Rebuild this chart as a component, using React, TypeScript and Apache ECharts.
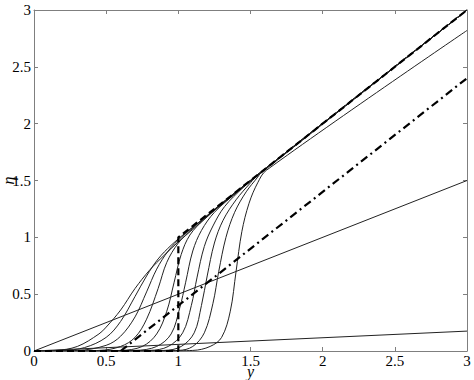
import React, { useEffect, useRef } from "react";
import * as echarts from "echarts";

const xTicks = [0, 0.5, 1, 1.5, 2, 2.5, 3];
const yTicks = [0, 0.5, 1, 1.5, 2, 2.5, 3];

const curve1 = [[0, 0], [0.15, 0.005], [0.3, 0.04], [0.45, 0.15], [0.5, 0.21], [0.6, 0.36], [0.7, 0.55], [0.8, 0.71], [0.9, 0.84], [1.0, 0.96], [1.1, 1.07], [1.2, 1.18], [1.3, 1.29], [3, 3]];
const curve2 = [[0, 0], [0.2, 0.005], [0.35, 0.03], [0.5, 0.12], [0.6, 0.26], [0.7, 0.48], [0.78, 0.66], [0.86, 0.81], [0.95, 0.93], [1.05, 1.04], [1.2, 1.19], [1.35, 1.35], [3, 3]];
const curve3 = [[0, 0], [0.3, 0.005], [0.5, 0.05], [0.6, 0.13], [0.7, 0.3], [0.78, 0.52], [0.85, 0.72], [0.93, 0.88], [1.02, 1.0], [1.15, 1.14], [1.35, 1.35], [3, 3]];
const curve4 = [[0.2, 0], [0.45, 0.005], [0.6, 0.04], [0.7, 0.12], [0.78, 0.28], [0.86, 0.55], [0.92, 0.78], [1.0, 0.95], [1.1, 1.08], [1.25, 1.24], [1.4, 1.4], [3, 3]];
const curve5 = [[0.3, 0], [0.6, 0.005], [0.75, 0.04], [0.85, 0.15], [0.92, 0.35], [0.97, 0.6], [1.02, 0.85], [1.08, 1.02], [1.18, 1.16], [1.3, 1.29], [1.45, 1.45], [3, 3]];
const curve6 = [[0.4, 0], [0.7, 0.005], [0.85, 0.04], [0.95, 0.15], [1.01, 0.38], [1.05, 0.6], [1.1, 0.88], [1.16, 1.06], [1.25, 1.22], [1.4, 1.39], [1.5, 1.5], [3, 3]];
const curve7 = [[0.5, 0], [0.8, 0.005], [0.93, 0.04], [1.03, 0.16], [1.09, 0.4], [1.13, 0.65], [1.18, 0.92], [1.24, 1.1], [1.32, 1.27], [1.45, 1.44], [1.52, 1.52], [3, 3]];
const curve8 = [[0.6, 0], [0.9, 0.005], [1.02, 0.04], [1.11, 0.16], [1.16, 0.4], [1.2, 0.66], [1.25, 0.95], [1.31, 1.15], [1.4, 1.33], [1.5, 1.48], [1.55, 1.55], [3, 3]];
const curve9 = [[0.7, 0], [1.0, 0.005], [1.1, 0.04], [1.18, 0.16], [1.24, 0.42], [1.28, 0.7], [1.33, 1.0], [1.39, 1.22], [1.47, 1.4], [1.55, 1.53], [1.58, 1.58], [3, 3]];
const curve10 = [[0.8, 0], [1.1, 0.005], [1.22, 0.04], [1.3, 0.12], [1.36, 0.35], [1.4, 0.7], [1.44, 1.05], [1.49, 1.3], [1.55, 1.48], [1.61, 1.59], [3, 2.82]];

const halfLine = [[0, 0], [3, 1.5]];
const lowLine = [[0, 0], [3, 0.175]];
const dashDotLine = [[0.6, 0], [3, 2.4]];
const dashedStep = [[0, 0], [1, 0], [1, 1], [3, 3]];

const curves = [curve1, curve2, curve3, curve4, curve5, curve6, curve7, curve8, curve9, curve10];

export default function App() {
  const ref = useRef<HTMLDivElement>(null);
  useEffect(() => {
    if (!ref.current) return;
    const chart = echarts.init(ref.current, null, { renderer: "svg" });
    const font = "Liberation Serif";
    const axisCommon = {
      type: "value" as const,
      min: 0,
      max: 3,
      interval: 0.5,
      splitLine: { show: false },
      axisLine: { show: true, onZero: false, lineStyle: { color: "#7f7f7f", width: 1 } },
      axisTick: { show: true, inside: true, length: 4, lineStyle: { color: "#7f7f7f" } },
    };
    const labelRich = { t: { fontFamily: font, fontSize: 15, color: "#000" } };
    const thin = (data: number[][]) => ({
      type: "line",
      data,
      showSymbol: false,
      smooth: 0.35,
      lineStyle: { color: "#222", width: 1 },
      z: 2,
    });
    const series: any[] = curves.map((c) => thin(c));
    series.push({ type: "line", data: halfLine, showSymbol: false, lineStyle: { color: "#222", width: 1 }, z: 2 });
    series.push({ type: "line", data: lowLine, showSymbol: false, lineStyle: { color: "#222", width: 1 }, z: 2 });
    series.push({
      type: "line",
      data: dashDotLine,
      showSymbol: false,
      lineStyle: { color: "#000", width: 2.2, type: [8, 4, 2, 4] },
      z: 3,
    });
    series.push({
      type: "line",
      data: dashedStep,
      showSymbol: false,
      lineStyle: { color: "#000", width: 2.2, type: [7, 4] },
      z: 4,
    });
    chart.setOption({
      animation: false,
      textStyle: { fontFamily: font },
      grid: { left: 34, right: 7, top: 10, bottom: 29, containLabel: false, outerBoundsMode: "none" },
      xAxis: [
        {
          ...axisCommon,
          position: "bottom",
          name: "y",
          nameLocation: "middle",
          nameGap: 13,
          nameMoveOverlap: false,
          nameTextStyle: { fontFamily: font, fontStyle: "italic", fontSize: 16, color: "#000", lineHeight: 14 },
          axisLabel: {
            color: "#000",
            fontFamily: font,
            fontSize: 15,
            margin: 2,
            rich: labelRich,
            formatter: (v: number) => (xTicks.includes(v) ? "{t|" + String(v) + "}" : ""),
          },
        },
        { ...axisCommon, position: "top", axisLabel: { show: false } },
      ],
      yAxis: [
        {
          ...axisCommon,
          position: "left",
          name: "η",
          nameLocation: "middle",
          nameGap: 20,
          nameMoveOverlap: false,
          nameTextStyle: { fontFamily: font, fontStyle: "italic", fontSize: 16, color: "#000", lineHeight: 12 },
          axisLabel: {
            color: "#000",
            fontFamily: font,
            fontSize: 15,
            margin: 3,
            rich: labelRich,
            formatter: (v: number) => (yTicks.includes(v) ? "{t|" + String(v) + "}" : ""),
          },
        },
        { ...axisCommon, position: "right", axisLabel: { show: false } },
      ],
      series,
    });
    return () => chart.dispose();
  }, []);
  return <div ref={ref} style={{ width: 474, height: 380, position: "absolute", left: 0, top: 0 }} />;
}
